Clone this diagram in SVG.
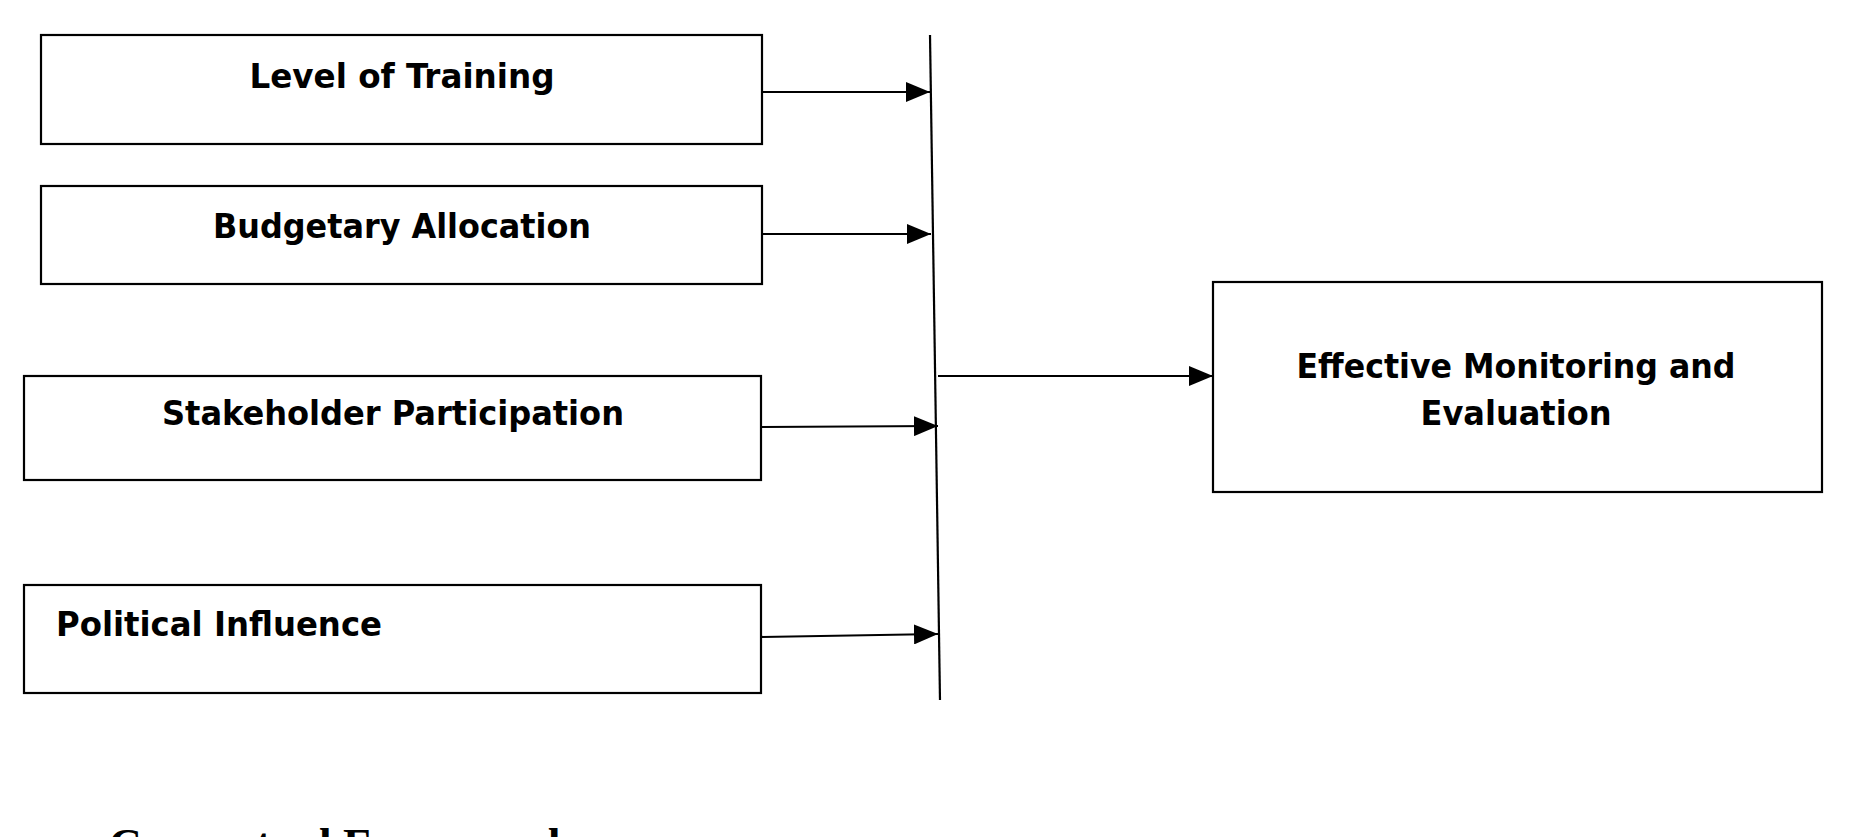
<svg xmlns="http://www.w3.org/2000/svg" width="1853" height="837" viewBox="0 0 1853 837">
<style>
.box{fill:#fff;stroke:#000;stroke-width:2.2}
.t{font-family:"DejaVu Sans",sans-serif;font-stretch:condensed;font-weight:bold;font-size:34px;fill:#000}
.c{stroke:#000;stroke-width:2.2;fill:none}
</style>
<defs><marker id="a" markerWidth="24" markerHeight="20" refX="24" refY="10" orient="auto" markerUnits="userSpaceOnUse"><path d="M0,0 L24,10 L0,20 Z" fill="#000"/></marker></defs>
<rect width="1853" height="837" fill="#fff"/>
<g id="n1"><rect class="box" x="41" y="35" width="721" height="109"/><text class="t" x="402" y="88" text-anchor="middle" textLength="305" lengthAdjust="spacingAndGlyphs">Level of Training</text></g>
<g id="n2"><rect class="box" x="41" y="186" width="721" height="98"/><text class="t" x="402" y="238" text-anchor="middle" textLength="378" lengthAdjust="spacingAndGlyphs">Budgetary Allocation</text></g>
<g id="n3"><rect class="box" x="24" y="376" width="737" height="104"/><text class="t" x="393" y="425" text-anchor="middle" textLength="462" lengthAdjust="spacingAndGlyphs">Stakeholder Participation</text></g>
<g id="n4"><rect class="box" x="24" y="585" width="737" height="108"/><text class="t" x="56" y="636" textLength="326" lengthAdjust="spacingAndGlyphs">Political Influence</text></g>
<g id="n5"><rect class="box" x="1213" y="282" width="609" height="210"/><text class="t" x="1516" y="378" text-anchor="middle" textLength="439" lengthAdjust="spacingAndGlyphs">Effective Monitoring and</text><text class="t" x="1516" y="425" text-anchor="middle" textLength="191" lengthAdjust="spacingAndGlyphs">Evaluation</text></g>
<g id="connectors">
<line class="c" x1="930" y1="35" x2="940" y2="700" stroke-width="2.6"/>
<line class="c" x1="762" y1="92" x2="930" y2="92" marker-end="url(#a)"/>
<line class="c" x1="762" y1="234" x2="931" y2="234" marker-end="url(#a)"/>
<line class="c" x1="761" y1="427" x2="938" y2="426" marker-end="url(#a)"/>
<line class="c" x1="761" y1="637" x2="938" y2="634" marker-end="url(#a)"/>
<line class="c" x1="938" y1="376" x2="1213" y2="376" marker-end="url(#a)"/>
</g>
<text x="109" y="859" font-family="Liberation Serif,serif" font-weight="bold" font-size="44" textLength="464" lengthAdjust="spacingAndGlyphs">Conceptual Framework</text>
</svg>
